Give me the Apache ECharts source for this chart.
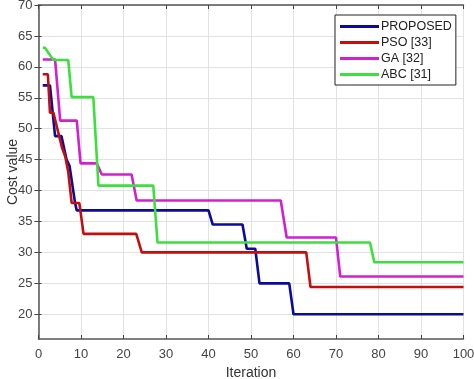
<!DOCTYPE html>
<html>
<head>
<meta charset="utf-8">
<script src="https://cdn.jsdelivr.net/npm/echarts@6/dist/echarts.min.js"></script>
<style>html,body{margin:0;padding:0;background:#fff}#c{width:474px;height:379px}</style>
</head>
<body>
<div id="c"></div>
<script>
var seriesNames = ['PROPOSED', 'PSO [33]', 'GA [32]', 'ABC [31]'];
var xTicks = [0, 10, 20, 30, 40, 50, 60, 70, 80, 90, 100];
var yTicks = [20, 25, 30, 35, 40, 45, 50, 55, 60, 65, 70];

var proposedX = [1, 2.7, 3.9, 5.4, 6.6, 7.3, 8.6, 9, 40, 41, 48, 49, 51, 52, 59, 60, 100];
var proposedY = [57, 57, 48.8, 48.8, 45, 44, 38, 36.8, 36.8, 34.5, 34.5, 30.6, 30.6, 25, 25, 20, 20];

var psoX = [1, 2.2, 2.7, 3.5, 5.5, 6.3, 7, 7.8, 9.6, 10.6, 23, 24.3, 63, 64, 100];
var psoY = [58.8, 58.8, 52.6, 52.6, 47, 45.5, 43, 38, 38, 33, 33, 30, 30, 24.4, 24.4];

var gaX = [1, 3.9, 5.1, 9, 9.9, 13.7, 14.9, 21.9, 23.1, 57, 58.4, 70, 71, 100];
var gaY = [61.2, 61.2, 51.3, 51.3, 44.4, 44.4, 42.6, 42.6, 38.4, 38.4, 32.4, 32.4, 26.1, 26.1];

var abcX = [1, 1.5, 3.5, 7, 7.8, 12.9, 14.1, 27, 28, 78, 79, 100];
var abcY = [63.1, 63.1, 61.1, 61.1, 55.1, 55.1, 40.8, 40.8, 31.6, 31.6, 28.4, 28.4];

var colors = ['#0a0a9c', '#c40d0d', '#d21fd2', '#3ce03c'];

function pairs(xs, ys) { return xs.map(function (x, i) { return [x, ys[i]]; }); }
var allX = [proposedX, psoX, gaX, abcX];
var allY = [proposedY, psoY, gaY, abcY];

var font = 'Liberation Sans, Arial, sans-serif';
var chart = echarts.init(document.getElementById('c'), null, {renderer: 'canvas'});
var tickStyle = {show: true, inside: true, length: 4, lineStyle: {color: '#444', width: 1}};
chart.setOption({
  animation: false,
  backgroundColor: '#fff',
  grid: {left: 38.5, right: 10.5, top: 5, bottom: 40, containLabel: false, outerBoundsMode: 'none'},
  legend: {
    data: seriesNames,
    orient: 'vertical',
    left: 335, top: 15,
    width: 117,
    padding: [5, 4, 4, 5],
    itemGap: 3,
    itemWidth: 39, itemHeight: 3,
    icon: 'rect',
    backgroundColor: '#fff',
    borderColor: '#222', borderWidth: 1, borderRadius: 0,
    textStyle: {fontFamily: font, fontSize: 12.5, color: '#222', padding: [0, 0, 0, -3], lineHeight: 13}
  },
  xAxis: [{
    type: 'value', min: 0, max: 100, interval: 10, position: 'bottom',
    name: 'Iteration', nameLocation: 'middle', nameGap: 27, nameMoveOverlap: false,
    nameTextStyle: {fontFamily: font, fontSize: 14, color: '#333', verticalAlign: 'top'},
    axisLine: {show: true, lineStyle: {color: '#555', width: 1.5}},
    axisTick: tickStyle,
    axisLabel: {fontFamily: font, fontSize: 13, color: '#444', margin: 9},
    splitLine: {show: true, lineStyle: {color: '#e2e2e2', width: 1}}
  }, {
    type: 'value', min: 0, max: 100, interval: 10, position: 'top',
    axisLine: {show: true, lineStyle: {color: '#555', width: 1.5}},
    axisTick: tickStyle, axisLabel: {show: false}, splitLine: {show: false}
  }],
  yAxis: [{
    type: 'value', min: 16, max: 70, position: 'left',
    name: 'Cost value', nameLocation: 'middle', nameGap: 18, nameMoveOverlap: false,
    nameTextStyle: {fontFamily: font, fontSize: 14, color: '#333', verticalAlign: 'bottom'},
    axisLine: {show: true, lineStyle: {color: '#d8d8d8', width: 1}},
    axisTick: {show: true, inside: true, length: 3, lineStyle: {color: '#444'}, customValues: yTicks},
    axisLabel: {fontFamily: font, fontSize: 13, color: '#444', margin: 6, customValues: yTicks},
    splitLine: {show: true, lineStyle: {color: '#e2e2e2', width: 1}}
  }, {
    type: 'value', min: 16, max: 70, position: 'right',
    axisLine: {show: true, lineStyle: {color: '#555', width: 1.5}},
    axisTick: {show: true, inside: true, length: 4, lineStyle: {color: '#444'}, customValues: yTicks},
    axisLabel: {show: false}, splitLine: {show: false}
  }],
  series: seriesNames.map(function (n, i) {
    return {
      name: n, type: 'line', xAxisIndex: 0, yAxisIndex: 0,
      data: pairs(allX[i], allY[i]),
      showSymbol: false, symbol: 'none',
      lineStyle: {color: colors[i], width: 2.6},
      itemStyle: {color: colors[i]},
      z: 2 + i
    };
  })
});
</script>
</body>
</html>
